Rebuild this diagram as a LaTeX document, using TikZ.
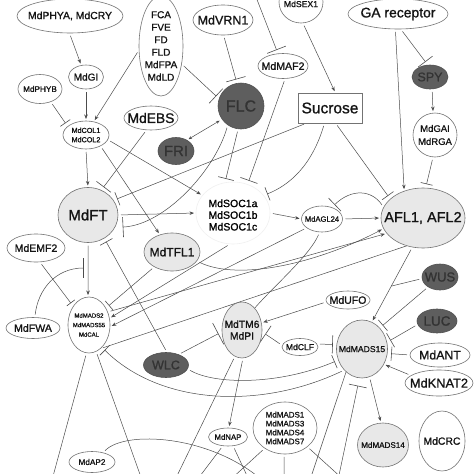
\documentclass[tikz,border=0pt]{standalone}
\usepackage{fontspec}
\setmainfont{Liberation Sans}
\newfontfamily\hv{Liberation Sans}[FakeBold=1.1]
\usetikzlibrary{shapes.geometric,arrows.meta}
\pgfdeclarelayer{bg}\pgfdeclarelayer{edges}\pgfsetlayers{bg,edges,main}
\newcommand\fsz[2]{\hv\fontsize{#1}{#2}\selectfont}
\definecolor{lc}{gray}{0.3}
\definecolor{bc}{gray}{0.45}
\definecolor{lf}{gray}{0.91}
\definecolor{df}{gray}{0.37}
\definecolor{tc}{gray}{0.08}
\definecolor{tdk}{gray}{0.2}
\begin{document}
\begin{tikzpicture}[x=1pt,y=-1pt,
  el/.style={ellipse,draw=bc,line width=0.6pt,fill=white,inner sep=0pt,outer sep=0pt},
  lg/.style={fill=lf},
  dk/.style={fill=df,draw=df!85!black},
  txt/.style={inner sep=0pt,align=center,text=tc},
  dtxt/.style={inner sep=0pt,align=center,text=tdk},
  ln/.style={draw=lc,line width=0.5pt,shorten <=3pt},
  arr/.style={ln,-{Stealth[length=4.5pt,width=3.5pt]},shorten >=2pt},
  inh/.style={ln,-{Bar[width=#1,line width=0.6pt]},shorten >=4pt},
  inh/.default=14pt]
\useasboundingbox (0,0) rectangle (474,474);
\begin{pgfonlayer}{bg}
\fill[white] (0,0) rectangle (474,474);
\end{pgfonlayer}
\clip (0,0) rectangle (474,474);

% ---- nodes ----
\node[el,minimum width=106pt,minimum height=34pt] (phya) at (70,16) {};
\node[txt,font=\fsz{10.4pt}{12pt}] (phyat) at (phya) {MdPHYA, MdCRY};
\node[el,minimum width=44pt,minimum height=100pt] (fca) at (161,46) {};
\node[txt,font=\fsz{10pt}{12.5pt}] (fcat) at (fca) {FCA\\FVE\\FD\\FLD\\MdFPA\\MdLD};
\node[el,minimum width=60pt,minimum height=30pt] (vrn) at (223,20) {};
\node[txt,font=\fsz{12.5pt}{14pt}] (vrnt) at (vrn) {MdVRN1};
\node[el,minimum width=44pt,minimum height=42pt] (sex) at (301,2) {};
\node[txt,font=\fsz{8.6pt}{10pt}] (sext) at (301,4) {MdSEX1};
\node[el,minimum width=100pt,minimum height=30pt] (ga) at (398,14) {};
\node[txt,font=\fsz{13.9pt}{15pt}] (gat) at (ga) {GA receptor};
\node[el,minimum width=35pt,minimum height=24pt] (gi) at (86,77) {};
\node[txt,font=\fsz{10pt}{12pt}] (git) at (gi) {MdGI};
\node[el,minimum width=44pt,minimum height=29pt] (phyb) at (40,89) {};
\node[txt,font=\fsz{8.2pt}{10pt}] (phybt) at (phyb) {MdPHYB};
\node[el,minimum width=46pt,minimum height=28pt] (col) at (86,135) {};
\node[txt,font=\fsz{7.2pt}{9.3pt}] (colt) at (col) {MdCOL1\\MdCOL2};
\node[el,minimum width=54pt,minimum height=24pt] (ebs) at (151,118) {};
\node[txt,font=\fsz{13.8pt}{15pt}] (ebst) at (ebs) {MdEBS};
\node[el,dk,minimum width=46pt,minimum height=46pt] (flc) at (241,106) {};
\node[dtxt,font=\fsz{16pt}{18pt}] (flct) at (flc) {FLC};
\node[el,dk,minimum width=36pt,minimum height=27pt] (fri) at (176,151) {};
\node[dtxt,font=\fsz{15pt}{17pt}] (frit) at (fri) {FRI};
\node[el,minimum width=50pt,minimum height=25pt] (maf) at (283,66) {};
\node[txt,font=\fsz{10.6pt}{12pt}] (maft) at (maf) {MdMAF2};
\node[draw=bc,line width=0.6pt,fill=white,minimum width=64pt,minimum height=30pt,inner sep=0pt,outer sep=0pt,text=tc,font=\fsz{15.5pt}{17pt}] (suc) at (330,108) {Sucrose};
\node[el,dk,minimum width=36pt,minimum height=24pt] (spy) at (430,77) {};
\node[dtxt,font=\fsz{12.5pt}{14pt}] (spyt) at (spy) {SPY};
\node[el,minimum width=44pt,minimum height=44pt] (gai) at (435,135) {};
\node[txt,font=\fsz{9.5pt}{13pt}] (gait) at (gai) {MdGAI\\MdRGA};
\node[el,lg,minimum width=60pt,minimum height=55pt] (ft) at (88,215) {};
\node[txt,font=\fsz{15pt}{17pt}] (ftt) at (ft) {MdFT};
\node[el,draw=gray!12,minimum width=74pt,minimum height=62pt] (soc) at (233,213) {};
\node[txt,text=black,font=\fsz{10.5pt}{11.7pt}] (soct) at (233,215) {MdSOC1a\\MdSOC1b\\MdSOC1c};
\node[el,minimum width=41pt,minimum height=26pt] (agl) at (322,219) {};
\node[txt,font=\fsz{7.6pt}{9pt}] (aglt) at (agl) {MdAGL24};
\node[el,lg,minimum width=84pt,minimum height=60pt] (afl) at (423,218) {};
\node[txt,font=\fsz{14.5pt}{16pt}] (aflt) at (afl) {AFL1, AFL2};
\node[el,minimum width=58pt,minimum height=28pt] (emf) at (36,248) {};
\node[txt,font=\fsz{10.5pt}{12pt}] (emft) at (emf) {MdEMF2};
\node[el,lg,minimum width=56pt,minimum height=38pt] (tfl) at (172,252) {};
\node[txt,font=\fsz{12pt}{14pt}] (tflt) at (tfl) {MdTFL1};
\node[el,minimum width=42pt,minimum height=56pt] (m52) at (89,325) {};
\node[txt,font=\fsz{6pt}{9.5pt}] (m52t) at (m52) {MdMADS2\\MdMADS55\\MdCAL};
\node[el,minimum width=54pt,minimum height=21pt] (fwa) at (33,328) {};
\node[txt,font=\fsz{10.6pt}{12pt}] (fwat) at (fwa) {MdFWA};
\node[el,minimum width=44pt,minimum height=18pt] (ufo) at (348,300) {};
\node[txt,font=\fsz{10.5pt}{12pt}] (ufot) at (ufo) {MdUFO};
\node[el,dk,minimum width=36pt,minimum height=26pt] (wus) at (440,277) {};
\node[dtxt,font=\fsz{13pt}{15pt}] (wust) at (wus) {WUS};
\node[el,dk,minimum width=40pt,minimum height=24pt] (luc) at (437,321) {};
\node[dtxt,font=\fsz{13.5pt}{15pt}] (luct) at (luc) {LUC};
\node[el,minimum width=60pt,minimum height=24pt] (ant) at (440,355) {};
\node[txt,font=\fsz{12.3pt}{14pt}] (antt) at (ant) {MdANT};
\node[el,minimum width=68pt,minimum height=26pt] (knat) at (439,383) {};
\node[txt,font=\fsz{12.8pt}{14pt}] (knatt) at (knat) {MdKNAT2};
\node[el,lg,minimum width=40pt,minimum height=56pt] (tm6) at (242,330) {};
\node[txt,font=\fsz{10.3pt}{11.7pt}] (tm6t) at (tm6) {MdTM6\\MdPI};
\node[el,dk,minimum width=45pt,minimum height=25pt] (wlc) at (166,365) {};
\node[dtxt,font=\fsz{12.5pt}{14pt}] (wlct) at (wlc) {WLC};
\node[el,minimum width=36pt,minimum height=17pt] (clf) at (300,347) {};
\node[txt,font=\fsz{8.6pt}{10pt}] (clft) at (clf) {MdCLF};
\node[el,lg,minimum width=51pt,minimum height=58pt] (m15) at (362,349) {};
\node[txt,font=\fsz{8.6pt}{10pt}] (m15t) at (m15) {MdMADS15};
\node[el,minimum width=64pt,minimum height=52pt] (m1347) at (285,428) {};
\node[txt,font=\fsz{8pt}{8.9pt}] (m1347t) at (m1347) {MdMADS1\\MdMADS3\\MdMADS4\\MdMADS7};
\node[el,lg,minimum width=51pt,minimum height=44pt] (m14) at (383,445) {};
\node[txt,font=\fsz{8.1pt}{10pt}] (m14t) at (m14) {MdMADS14};
\node[el,minimum width=46pt,minimum height=60pt] (crc) at (442,441) {};
\node[txt,font=\fsz{10.4pt}{12pt}] (crct) at (crc) {MdCRC};
\node[el,minimum width=39pt,minimum height=18pt] (nap) at (228,437) {};
\node[txt,font=\fsz{7.8pt}{9pt}] (napt) at (nap) {MdNAP};
\node[el,minimum width=46pt,minimum height=21pt] (ap2) at (92,462) {};
\node[txt,font=\fsz{8.2pt}{10pt}] (ap2t) at (ap2) {MdAP2};

% ---- free ends ----
\coordinate (topm) at (256,-3);
\coordinate (fwae) at (88,268);
\coordinate (b1) at (52,480);
\coordinate (b2) at (142,480);
\coordinate (b3) at (175,480);
\coordinate (b4) at (310,480);
\coordinate (b5) at (338,480);
\coordinate (b6) at (230,480);
\coordinate (b7) at (284,480);
\coordinate (b8) at (344,480);
\coordinate (b9) at (197,480);
\coordinate (b10) at (249,480);
\coordinate (b11) at (262,480);

% ---- connectors ----
\begin{pgfonlayer}{edges}
\draw[arr] (phya.-92) -- (gi.112);
\draw[arr] (gi.-90) -- (col.90);
\draw[arr] (fca.190) -- (col.60);
\draw[inh=12pt] (phyb.-50) -- (col.155);
\draw[inh=20pt] (fca.-41) -- (flc.162);
\draw[inh=20pt] (vrn.-88) -- (flc.100);
\draw[ln,{Stealth[length=3.5pt,width=3pt]}-{Stealth[length=3.5pt,width=3pt]},shorten >=2pt] (flc.215) -- (fri.45);
\draw[inh=20pt] (topm) -- (maf.112);
\draw[arr] (sex.-85) -- (suc.70);
\draw[inh=18pt] (ga.-80) -- (spy.100);
\draw[arr] (spy.-80) -- (gai.95);
\draw[arr] (ga.-100) -- (afl.125);
\draw[inh=12pt] (gai.-95) -- (afl.85);
\draw[inh=18pt] (maf.-80) -- (soc.63);
\draw[inh=16pt] (flc.-97) -- (soc.105);
\draw[inh=14pt] (suc.213) -- (ft.30);
\draw[inh=14pt] (suc.-110) .. controls (312,165) and (290,185) .. (soc.30);
\draw[inh=14pt] (suc.-70) -- (afl.150);
\draw[inh=20pt,shorten >=8pt] (flc.-125) .. controls (215,170) and (165,225) .. (ft.-25);
\draw[inh=18pt] (ebs.-110) -- (ft.62);
\draw[arr] (col.-90) -- (ft.90);
\draw[arr] (col.-12) -- (soc.150);
\draw[arr] (col.-37) -- (tfl.125);
\draw[arr] (ft.0) -- (soc.180);
\draw[arr] (soc.0) -- (agl.180);
\draw[arr] (agl.0) -- (afl.180);
\draw[inh=18pt] (afl.165) .. controls (372,190) and (352,188) .. (agl.50);
\draw[inh=14pt] (wlc.85) -- (ft.-55);
\draw[arr] (ft.-90) -- (m52.92);
\draw[inh=20pt] (fwa.80) .. controls (38,290) and (55,268) .. (fwae);
\draw[inh=10pt] (emf.-75) -- (m52.130);
\draw[arr] (soc.-95) -- (m52.18);
\draw[arr] (agl.-150) -- (m52.-5);
\draw[arr] (tfl.-20) .. controls (240,282) and (320,262) .. (afl.195);
\draw[inh=12pt] (tfl.-140) -- (m52.45);
\draw[arr] (m52.35) -- (afl.203);
\draw[ln] (m52.-65) -- (afl.240);
\draw[ln] (m52.-95) -- (b1);
\draw[ln] (m52.-75) -- (b2);
\draw[inh=14pt] (m15.-130) .. controls (260,410) and (160,405) .. (m52.-60);
\draw[inh=14pt] (wlc.-10) .. controls (215,385) and (280,385) .. (m15.-155);
\draw[ln] (agl.-100) .. controls (310,255) and (275,285) .. (tm6.60);
\draw[arr] (ufo.185) -- (tm6.20);
\draw[arr] (afl.-110) -- coordinate[pos=0.52] (wj) (m15.70);
\draw[ln] (wus.185) -- (wj);
\draw[inh=14pt] (wus.-140) -- (m15.50);
\draw[inh=16pt] (luc.190) -- (m15.15);
\draw[inh=14pt] (ant.180) -- (m15.-10);
\draw[arr] (knat.165) -- (m15.-35);
\draw[inh=18pt] (clf.10) -- (m15.170);
\draw[inh=20pt] (clf.175) -- (tm6.-5);
\draw[inh=24pt] (wlc.40) -- (tm6.185);
\draw[arr] (tm6.-88) -- (nap.85);
\draw[ln] (tm6.-105) -- (b3);
\draw[ln] (b4) -- (m15.-125);
\draw[inh=18pt,shorten >=8pt] (b5) -- (m15.-95);
\draw[arr] (m15.-75) -- (m14.95);
\draw[ln] (m1347.-135) -- (b6);
\draw[ln] (m1347.-92) -- (b7);
\draw[ln] (m1347.-40) -- (b8);
\draw[ln] (nap.-120) -- (b9);
\draw[ln] (nap.-60) -- (b10);
\draw[ln] (ap2.40) .. controls (125,430) and (210,435) .. (b11);
\end{pgfonlayer}
\end{tikzpicture}
\end{document}
